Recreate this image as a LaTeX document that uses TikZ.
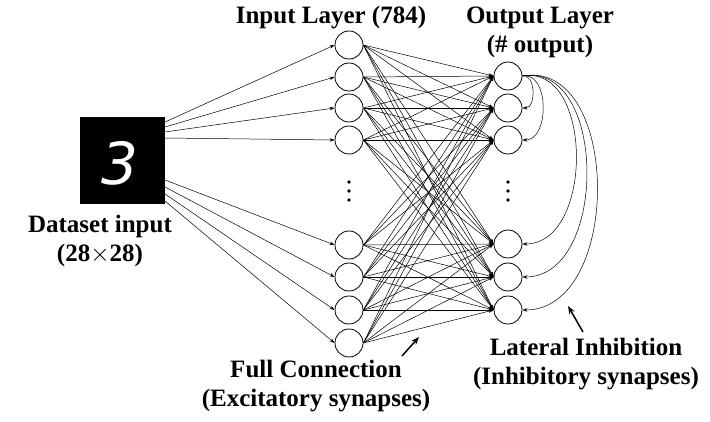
\documentclass[tikz,border=0pt]{standalone}
\usepackage{fontspec}
\setmainfont{Liberation Serif}
\usetikzlibrary{arrows.meta}
\begin{document}
\begin{tikzpicture}[x=1pt,y=-1pt,
  neuron/.style={circle,draw,thick,minimum size=28pt,inner sep=0pt},
  syn/.style={-{Stealth[length=5pt,width=3.5pt]},line width=0.5pt},
  lbl/.style={font=\bfseries\fontsize{25}{29}\selectfont,align=center,inner sep=0pt},
  dot/.style={circle,fill,inner sep=1.3pt}]
\useasboundingbox (0,0) rectangle (710,422);
% dataset image
\node[fill=black,minimum width=85pt,minimum height=87pt,inner sep=0pt] (img) at (122,161) {};
\node[text=white,font=\fontspec{DejaVu Sans}\fontsize{58}{58}\selectfont] (three) at (120,163) {\textit{3}};
% input layer
\foreach \i/\y in {1/45,2/77,3/108,4/140,5/245,6/277,7/310,8/343}
  \node[neuron] (in\i) at (349,\y) {};
\foreach \i/\y in {1/76,2/108,3/140,5/244,6/277,7/310}
  \node[neuron] (out\i) at (508,\y) {};
\foreach \x in {349,508}{
  \node[dot] at (\x,182) {}; \node[dot] at (\x,191) {}; \node[dot] at (\x,200) {};}
% image to input
\foreach \i/\y in {1/122,2/127,3/132,4/138}
  \coordinate (s\i) at (165,\y);
\foreach \i/\y in {5/180,6/187,7/194,8/201}
  \coordinate (s\i) at (165,\y);
\foreach \i in {1,...,8} \draw[syn] (s\i) -- (in\i.west);
% full connection
\foreach \i in {1,...,8}
  \foreach \j in {1,2,3,5,6,7}
    \draw[syn] (in\i.east) -- (out\j.west);
% lateral inhibition
\foreach \j in {2,3,5,6,7}
  \draw[syn] (out1.east) to[out=10,in=0,looseness=1.1] (out\j.east);
% labels
\node[lbl] (tin) at (331,18) {Input Layer (784)};
\node[lbl] (tout) at (540,32) {Output Layer\\(\# output)};
\node[lbl] (tdata) at (100,241) {Dataset input\\(28$\times$28)};
\node[lbl] (tfull) at (316,386) {Full Connection\\(Excitatory synapses)};
\node[lbl] (tlat) at (586,364) {Lateral Inhibition\\(Inhibitory synapses)};
\coordinate (a1) at (402,356);
\coordinate (a1e) at (419,337);
\draw[-{Stealth[length=8pt,width=6pt]},line width=1.5pt] (a1) -- (a1e);
\coordinate (a2) at (583,332);
\coordinate (a2e) at (568,306);
\draw[-{Stealth[length=8pt,width=6pt]},line width=1.5pt] (a2) -- (a2e);
\end{tikzpicture}
\end{document}
